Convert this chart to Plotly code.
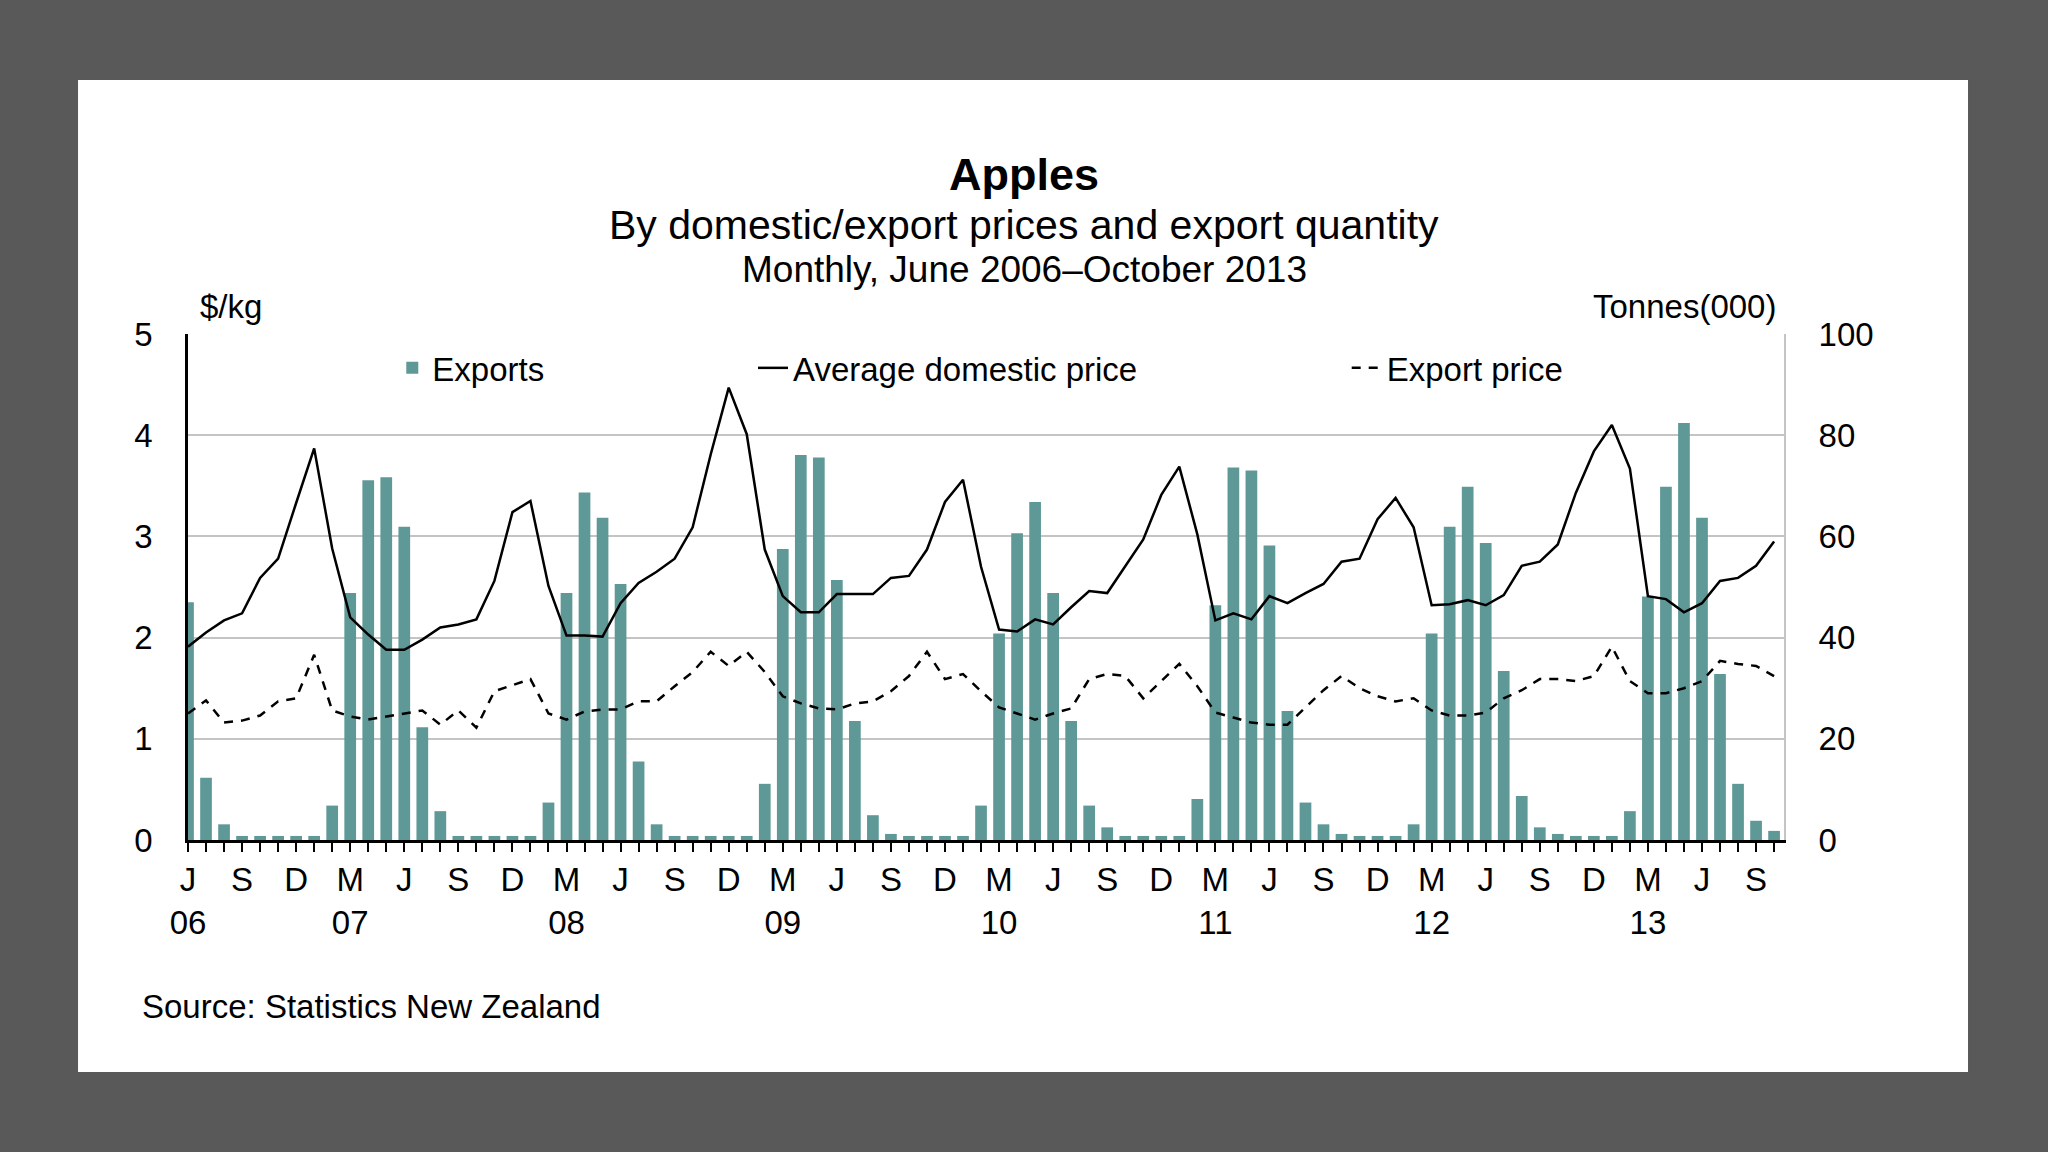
import plotly.graph_objects as go

# Monthly, June 2006 - October 2013 (89 months)
exports = [  # tonnes (000)
    47.0, 12.3, 3.1, 0.8, 0.8, 0.8, 0.8,
    0.8, 6.8, 48.8, 71.1, 71.7, 61.9, 22.3, 5.7, 0.8, 0.8, 0.8, 0.8,
    0.8, 7.4, 48.8, 68.7, 63.7, 50.6, 15.5, 3.1, 0.8, 0.8, 0.8, 0.8,
    0.8, 11.1, 57.5, 76.1, 75.6, 51.4, 23.5, 4.9, 1.2, 0.8, 0.8, 0.8,
    0.8, 6.8, 40.8, 60.6, 66.8, 48.8, 23.5, 6.8, 2.5, 0.8, 0.8, 0.8,
    0.8, 8.1, 46.4, 73.6, 73.0, 58.2, 25.5, 7.4, 3.1, 1.2, 0.8, 0.8,
    0.8, 3.1, 40.8, 61.9, 69.8, 58.7, 33.4, 8.7, 2.5, 1.2, 0.8, 0.8,
    0.8, 5.7, 48.1, 69.8, 82.4, 63.7, 32.8, 11.1, 3.8, 1.8,
]
domestic_price = [  # $/kg
    1.91, 2.05, 2.17, 2.24, 2.59, 2.78, 3.33,
    3.87, 2.88, 2.20, 2.03, 1.88, 1.88, 1.98, 2.10, 2.13, 2.18, 2.56, 3.24,
    3.35, 2.51, 2.02, 2.02, 2.01, 2.34, 2.54, 2.65, 2.78, 3.09, 3.81, 4.47,
    4.01, 2.87, 2.41, 2.25, 2.25, 2.43, 2.43, 2.43, 2.59, 2.61, 2.87, 3.34,
    3.56, 2.70, 2.08, 2.06, 2.18, 2.13, 2.30, 2.46, 2.44, 2.70, 2.97, 3.41,
    3.69, 3.02, 2.17, 2.24, 2.18, 2.41, 2.34, 2.44, 2.53, 2.75, 2.78, 3.17,
    3.38, 3.09, 2.32, 2.33, 2.37, 2.32, 2.42, 2.71, 2.75, 2.92, 3.43, 3.84,
    4.10, 3.67, 2.41, 2.38, 2.25, 2.34, 2.56, 2.59, 2.71, 2.95,
]
export_price = [  # $/kg
    1.25, 1.38, 1.16, 1.18, 1.23, 1.37, 1.40,
    1.83, 1.28, 1.22, 1.19, 1.22, 1.25, 1.28, 1.14, 1.28, 1.11, 1.47, 1.53,
    1.59, 1.25, 1.19, 1.27, 1.29, 1.29, 1.37, 1.37, 1.52, 1.66, 1.86, 1.72,
    1.86, 1.66, 1.42, 1.35, 1.30, 1.29, 1.35, 1.37, 1.47, 1.62, 1.86, 1.59,
    1.64, 1.47, 1.31, 1.25, 1.19, 1.25, 1.30, 1.59, 1.64, 1.62, 1.40, 1.57,
    1.74, 1.52, 1.26, 1.21, 1.16, 1.14, 1.14, 1.31, 1.48, 1.62, 1.50, 1.42,
    1.37, 1.40, 1.28, 1.23, 1.23, 1.26, 1.40, 1.48, 1.59, 1.59, 1.57, 1.62,
    1.91, 1.57, 1.45, 1.45, 1.50, 1.57, 1.77, 1.74, 1.72, 1.62,
]
tick_text = ["J<br>06", "S", "D",
             "M<br>07", "J", "S", "D",
             "M<br>08", "J", "S", "D",
             "M<br>09", "J", "S", "D",
             "M<br>10", "J", "S", "D",
             "M<br>11", "J", "S", "D",
             "M<br>12", "J", "S", "D",
             "M<br>13", "J", "S"]

months = list(range(len(exports)))
tick_vals = months[::3]

FONT = "Liberation Sans, Arial, sans-serif"
BAR_COLOR = "#5f9997"
FS = 33

fig = go.Figure()
fig.add_trace(go.Bar(x=months, y=exports, name="Exports", marker_color=BAR_COLOR,
                     marker_line_width=0, yaxis="y", legend="legend", showlegend=True))
fig.add_trace(go.Scatter(x=months, y=domestic_price, name="Average domestic price",
                         mode="lines", line=dict(color="black", width=2.5),
                         yaxis="y2", legend="legend2", showlegend=True))
fig.add_trace(go.Scatter(x=months, y=export_price, name="Export price",
                         mode="lines", line=dict(color="black", width=2.5, dash="9px,8px"),
                         yaxis="y2", legend="legend3", showlegend=True))

leg_common = dict(orientation="h", yanchor="middle", y=0.933, xanchor="left",
                  bgcolor="rgba(0,0,0,0)", font=dict(family=FONT, size=FS, color="black"))

fig.update_layout(
    width=2048, height=1152,
    margin=dict(l=188, r=264, t=334, b=312),
    paper_bgcolor="#595959",
    plot_bgcolor="white",
    showlegend=True,
    font=dict(family=FONT, size=FS, color="black"),
    bargap=0.35,
    legend=dict(x=0.128, **leg_common),
    legend2=dict(x=0.354, **leg_common),
    legend3=dict(x=0.726, **leg_common),
    xaxis=dict(range=[0, 88.55], showgrid=False, zeroline=False,
               showline=True, linecolor="black", linewidth=2.5,
               tickmode="array", tickvals=tick_vals, ticktext=tick_text,
               ticks="outside", ticklen=9, tickwidth=2, tickcolor="black",
               minor=dict(tickmode="linear", tick0=0, dtick=1, ticks="outside",
                          ticklen=9, tickwidth=2, tickcolor="black"),
               tickfont=dict(family=FONT, size=FS, color="black")),
    yaxis=dict(range=[0, 100], side="right", tickmode="linear", tick0=0, dtick=20,
               showgrid=True, gridcolor="#c4c4c4", gridwidth=2, zeroline=False,
               showline=True, linecolor="#c4c4c4", linewidth=2, ticks="",
               ticklabelstandoff=26,
               tickfont=dict(family=FONT, size=FS, color="black")),
    yaxis2=dict(range=[0, 5], side="left", overlaying="y", tickmode="linear",
                tick0=0, dtick=1, showgrid=False, zeroline=False,
                showline=True, linecolor="black", linewidth=2.5, ticks="",
                ticklabelstandoff=26,
                tickfont=dict(family=FONT, size=FS, color="black")),
    shapes=[dict(type="rect", xref="paper", yref="paper", x0=-0.0689, x1=1.1153,
                 y0=-0.4585, y1=1.502, fillcolor="white", line_width=0, layer="below")],
    annotations=[
        dict(text="<b>Apples</b>", x=0.524, y=1.316, xref="paper", yref="paper",
             showarrow=False, xanchor="center", yanchor="middle",
             font=dict(family=FONT, size=45, color="black")),
        dict(text="By domestic/export prices and export quantity", x=0.524, y=1.215,
             xref="paper", yref="paper", showarrow=False, xanchor="center",
             yanchor="middle", font=dict(family=FONT, size=41, color="black")),
        dict(text="Monthly, June 2006–October 2013", x=0.524, y=1.128,
             xref="paper", yref="paper", showarrow=False, xanchor="center",
             yanchor="middle", font=dict(family=FONT, size=37, color="black")),
        dict(text="$/kg", x=0.006, y=1.055, xref="paper", yref="paper",
             showarrow=False, xanchor="left", yanchor="middle",
             font=dict(family=FONT, size=FS, color="black")),
        dict(text="Tonnes(000)", x=0.996, y=1.055, xref="paper", yref="paper",
             showarrow=False, xanchor="right", yanchor="middle",
             font=dict(family=FONT, size=FS, color="black")),
        dict(text="Source: Statistics New Zealand", x=-0.030, y=-0.330,
             xref="paper", yref="paper", showarrow=False, xanchor="left",
             yanchor="middle", font=dict(family=FONT, size=FS, color="black")),
    ],
)

fig.write_html("out.html")
